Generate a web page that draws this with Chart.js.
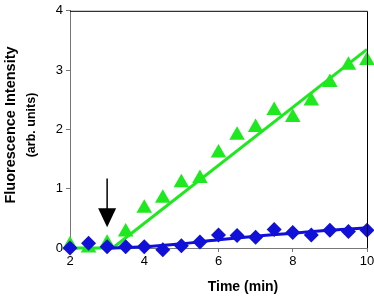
<!DOCTYPE html>
<html lang="en">
<head>
<meta charset="UTF-8">
<title>Fluorescence vs time</title>
<script src="https://cdn.jsdelivr.net/npm/chart.js@4.4.1/dist/chart.umd.min.js"></script>
<style>
  html, body { margin: 0; padding: 0; background: #fff; overflow: hidden; }
  #wrap { width: 385px; height: 297px; }
</style>
</head>
<body>
<div id="wrap"><canvas id="chart" width="385" height="297"></canvas></div>
<script>
// time points (min)
const times = [2, 2.5, 3, 3.5, 4, 4.5, 5, 5.5, 6, 6.5, 7, 7.5, 8, 8.5, 9, 9.5, 10];
// green triangles
const greenVals = [0.05, 0, 0.08, 0.27, 0.67, 0.84, 1.1, 1.17, 1.6, 1.9, 2.03, 2.32, 2.2, 2.48, 2.79, 3.08, 3.16];
// blue diamonds
const blueVals = [0, 0.08, 0.02, 0.02, 0.02, -0.03, 0.04, 0.1, 0.22, 0.21, 0.18, 0.31, 0.26, 0.22, 0.3, 0.28, 0.3];
// fitted curves
const greenFitX = [2, 3.15, 10];
const greenFitY = [0, 0, 3.35];
const blueFitX = [3, 4, 5, 6, 7, 8, 9, 10];
const blueFitY = [0, 0.02, 0.07, 0.14, 0.2, 0.25, 0.3, 0.34];
// arrow marking the addition time
const arrowX = 3;
const arrowFrom = 1.17;
const arrowTo = 0.35;

const xTicks = [2, 4, 6, 8, 10];
const yTicks = [0, 1, 2, 3, 4];

const green = '#1ee81e';
const blue = '#1010d8';

function pairs(xs, ys) {
    return xs.map((x, i) => ({x: x, y: ys[i]}));
}

const extras = {
    id: 'extras',
    afterDraw(chart) {
        const ctx = chart.ctx;
        const a = chart.chartArea;
        const xs = chart.scales.x, ys = chart.scales.y;
        ctx.save();
        // top and right frame
        ctx.strokeStyle = '#000';
        ctx.lineWidth = 1;
        ctx.beginPath();
        ctx.moveTo(a.left, a.top + 0.5);
        ctx.lineTo(a.right + 0.5, a.top + 0.5);
        ctx.lineTo(a.right + 0.5, a.bottom);
        ctx.stroke();
        // arrow
        const ax = xs.getPixelForValue(arrowX);
        const y1 = ys.getPixelForValue(arrowFrom);
        const y2 = ys.getPixelForValue(arrowTo);
        ctx.strokeStyle = '#000';
        ctx.lineWidth = 1.5;
        ctx.beginPath();
        ctx.moveTo(ax, y1);
        ctx.lineTo(ax, y2 - 16);
        ctx.stroke();
        ctx.fillStyle = '#000';
        ctx.beginPath();
        ctx.moveTo(ax - 9, y2 - 19);
        ctx.lineTo(ax + 9, y2 - 19);
        ctx.lineTo(ax, y2);
        ctx.closePath();
        ctx.fill();
        // axis titles
        ctx.fillStyle = '#000';
        ctx.textAlign = 'center';
        ctx.textBaseline = 'middle';
        ctx.font = 'bold 14px "Liberation Sans", Arial, sans-serif';
        ctx.fillText('Time (min)', 243, 287);
        ctx.translate(11, 125);
        ctx.rotate(-Math.PI / 2);
        ctx.font = 'bold 14.5px "Liberation Sans", Arial, sans-serif';
        ctx.fillText('Fluorescence Intensity', 0, 0);
        ctx.font = 'bold 12.5px "Liberation Sans", Arial, sans-serif';
        ctx.fillText('(arb. units)', 0, 21);
        ctx.restore();
    }
};

const ctx = document.getElementById('chart').getContext('2d');
new Chart(ctx, {
    type: 'scatter',
    data: {
        datasets: [{
            label: 'blue',
            data: pairs(times, blueVals),
            pointStyle: 'rectRot',
            pointRadius: 7.5,
            backgroundColor: blue,
            borderColor: blue,
            borderWidth: 0,
            clip: false,
            order: 0
        }, {
            label: 'blue fit',
            data: pairs(blueFitX, blueFitY),
            showLine: true,
            tension: 0.4,
            pointRadius: 0,
            borderColor: blue,
            borderWidth: 3,
            clip: false,
            order: 1
        }, {
            label: 'green',
            data: pairs(times, greenVals),
            pointStyle: 'triangle',
            pointRadius: 9,
            backgroundColor: green,
            borderColor: green,
            borderWidth: 0,
            clip: false,
            order: 2
        }, {
            label: 'green fit',
            data: pairs(greenFitX, greenFitY),
            showLine: true,
            pointRadius: 0,
            borderColor: green,
            borderWidth: 3,
            clip: false,
            order: 3
        }]
    },
    options: {
        responsive: false,
        animation: false,
        events: [],
        layout: { padding: { top: 10, right: 18, left: 0, bottom: 0 } },
        plugins: { legend: { display: false }, tooltip: { enabled: false } },
        scales: {
            x: {
                type: 'linear',
                min: 2, max: 10,
                afterBuildTicks: s => { s.ticks = xTicks.map(v => ({value: v})); },
                afterFit: s => { s.height = 49; },
                grid: { drawOnChartArea: false, drawTicks: true, tickLength: 4, color: '#777' },
                border: { color: '#777', width: 1 },
                ticks: { color: '#000', padding: 2, maxRotation: 0,
                         font: { size: 13, family: '"Liberation Sans", Arial, sans-serif' } }
            },
            y: {
                min: 0, max: 4,
                afterBuildTicks: s => { s.ticks = yTicks.map(v => ({value: v})); },
                afterFit: s => { s.width = 70; },
                grid: { drawOnChartArea: false, drawTicks: true, tickLength: 4, color: '#777' },
                border: { color: '#777', width: 1 },
                ticks: { color: '#000', padding: 3,
                         font: { size: 13, family: '"Liberation Sans", Arial, sans-serif' } }
            }
        }
    },
    plugins: [extras]
});
</script>
</body>
</html>
